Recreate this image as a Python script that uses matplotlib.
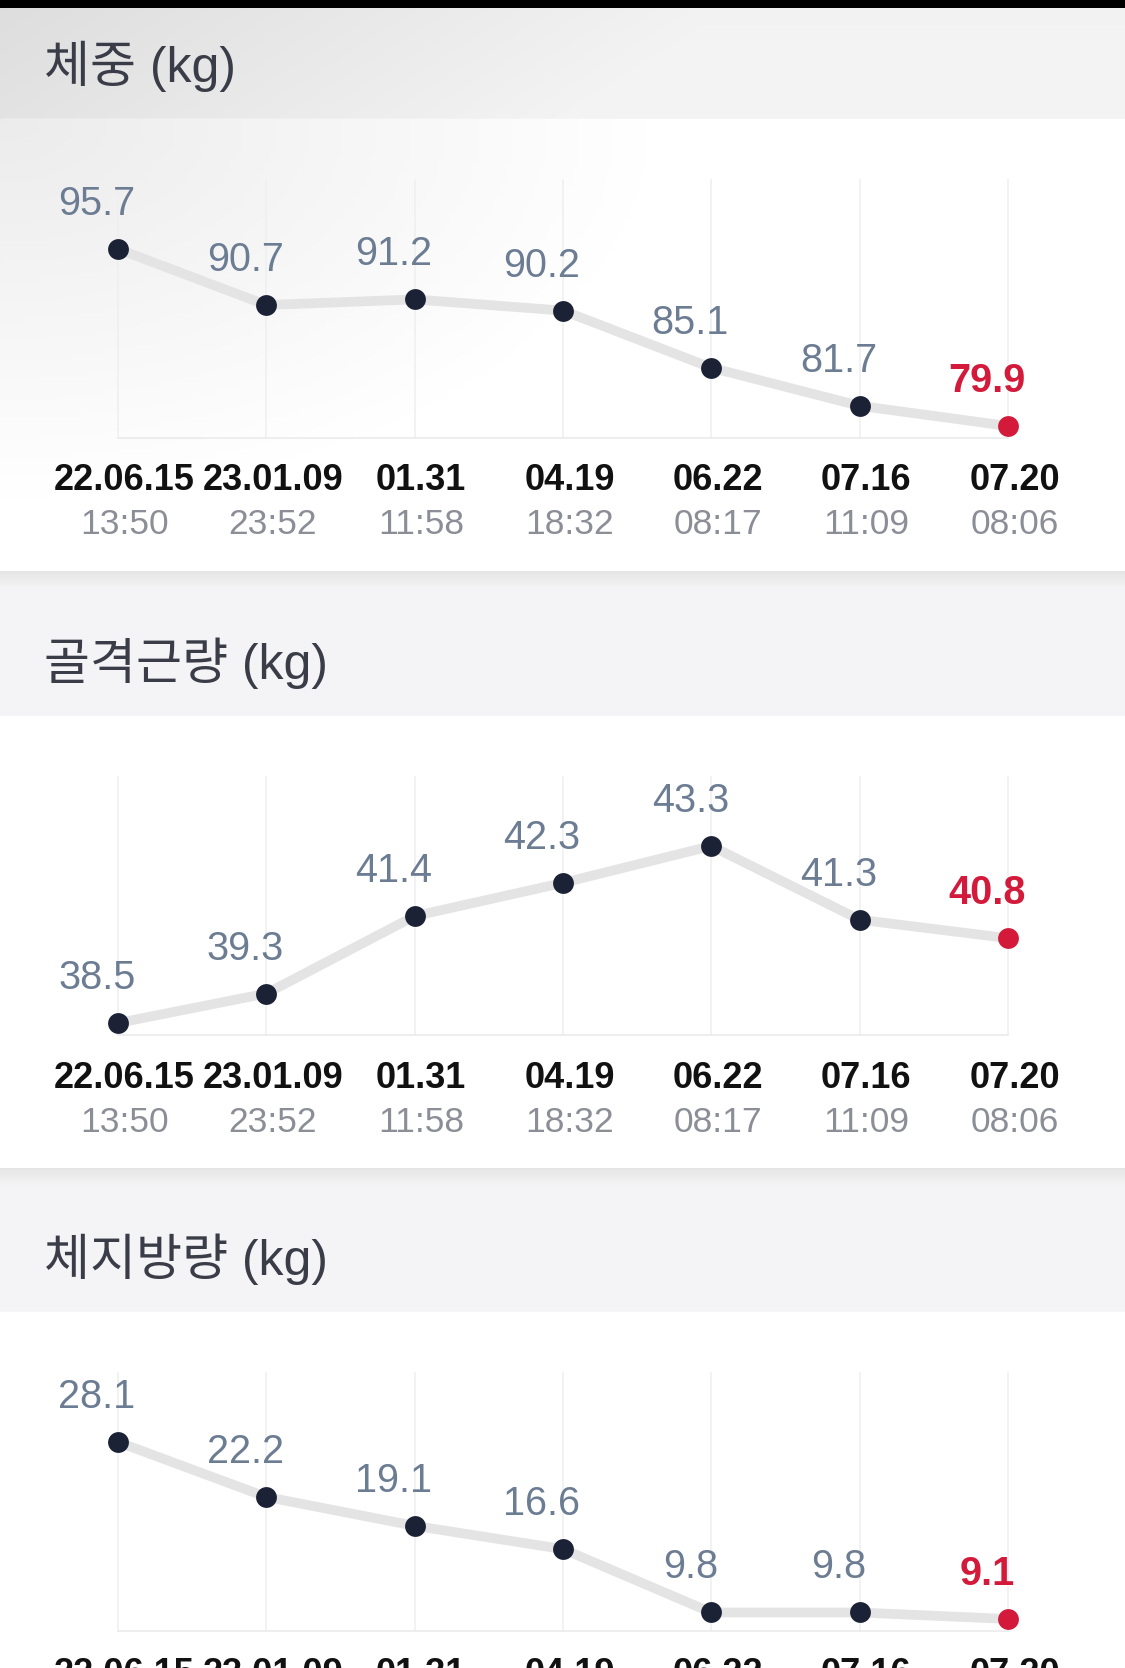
import numpy as np
import matplotlib.pyplot as plt
from matplotlib.patches import Rectangle

W, H = 1125, 1668
dpi = 100

dates = ["22.06.15", "23.01.09", "01.31", "04.19", "06.22", "07.16", "07.20"]
times = ["13:50", "23:52", "11:58", "18:32", "08:17", "11:09", "08:06"]

titles = ["체중 (kg)", "골격근량 (kg)", "체지방량 (kg)"]
weight = [95.7, 90.7, 91.2, 90.2, 85.1, 81.7, 79.9]
muscle = [38.5, 39.3, 41.4, 42.3, 43.3, 41.3, 40.8]
fat = [28.1, 22.2, 19.1, 16.6, 9.8, 9.8, 9.1]
series = [weight, muscle, fat]

# layout in pixels
panel_tops = [119, 716, 1312]
x_first, x_last = 118, 1008

gray_bg = "#f4f4f6"
dot_col = "#1b2236"
red = "#d31a3a"
val_col = "#6c7d93"
time_col = "#8b8e96"
num_font = ["Liberation Sans", "DejaVu Sans"]

fig = plt.figure(figsize=(W / dpi, H / dpi), dpi=dpi, facecolor=gray_bg)

# background decorations in pixel space
bg = fig.add_axes([0, 0, 1, 1], zorder=0)
bg.axis("off")

bg.add_patch(Rectangle((0, 0), W, 8, color="black"))

# header 1: gradient darker to the left
gx = np.linspace(0, 1, 300)
gy = np.linspace(0, 1, 60)[:, None]
shade = 0.87 + 0.08 * np.clip(gx[None, :] * 1.6, 0, 1) + 0.02 * gy
shade = np.clip(shade, 0, 0.955)
bg.imshow(np.dstack([shade, shade, shade]), extent=(0, W, 119, 8), aspect="auto", zorder=1)

# panels
for k, T in enumerate(panel_tops):
    bottom = min(T + 452, H)
    bg.add_patch(Rectangle((0, T), W, bottom - T, color="white", zorder=1))
    if bottom < H:
        sh = np.linspace(0.9, 0.957, 30)[:, None] * np.ones((1, 10))
        bg.imshow(np.dstack([sh, sh, sh + 0.005]), extent=(0, W, bottom + 18, bottom),
                  aspect="auto", zorder=1)

# panel 1 soft shading at top-left
px = np.linspace(0, W, 200)[None, :]
py = np.linspace(0, 452, 100)[:, None]
d = np.sqrt((px / 650) ** 2 + (py / 380) ** 2)
sh1 = 1 - 0.075 * np.clip(1 - d, 0, 1)
bg.imshow(np.dstack([sh1, sh1, sh1]), extent=(0, W, panel_tops[0] + 452, panel_tops[0]),
          aspect="auto", zorder=1)

bg.set_xlim(0, W)
bg.set_ylim(H, 0)

for title, T in zip(titles, panel_tops):
    fig.text(44 / W, 1 - (T - 53) / H, title, fontsize=36, fontweight="medium",
             family=["Liberation Sans", "Noto Sans CJK KR", "DejaVu Sans"],
             color="#3a3d48", va="center", ha="left", zorder=5)

for vals, T in zip(series, panel_tops):
    n = len(vals)
    xs = np.arange(n)
    ax = fig.add_axes([x_first / W, 1 - (T + 319) / H, (x_last - x_first) / W, 258 / H], zorder=2)
    ax.patch.set_alpha(0)
    ax.set_xlim(0, n - 1)
    lo, hi = min(vals), max(vals)
    s = 177 / (hi - lo)
    ax.set_ylim(lo - 12 / s, hi + 69 / s)
    ax.set_xticks([])
    ax.set_yticks([])
    for sp in ["left", "right", "top"]:
        ax.spines[sp].set_visible(False)
    ax.spines["bottom"].set_color("#ebebed")
    ax.spines["bottom"].set_linewidth(1.2)

    for i in xs:
        ax.axvline(i, color="#efeff1", lw=1.1, zorder=0, clip_on=False)

    ax.plot(xs, vals, color="#e4e4e4", lw=7, solid_capstyle="round", zorder=2, clip_on=False)
    ax.scatter(xs[:-1], vals[:-1], s=15 ** 2, color=dot_col, zorder=3, clip_on=False, linewidths=0)
    ax.scatter(xs[-1:], vals[-1:], s=15 ** 2, color=red, zorder=3, clip_on=False, linewidths=0)

    for i, v in enumerate(vals):
        last = i == n - 1
        ax.annotate(f"{v:.1f}", (i, v), xytext=(-21, 45), textcoords="offset pixels",
                    ha="center", va="center", fontsize=28.5, family=num_font,
                    color=red if last else val_col, fontweight="bold" if last else "normal",
                    annotation_clip=False)
        ax.annotate(dates[i], (i, 0), xycoords=("data", "axes fraction"), xytext=(6.5, -43),
                    textcoords="offset pixels", ha="center", va="center", fontsize=26,
                    fontweight="bold", family=num_font, color="#111111", annotation_clip=False)
        ax.annotate(times[i], (i, 0), xycoords=("data", "axes fraction"), xytext=(6.5, -87),
                    textcoords="offset pixels", ha="center", va="center", fontsize=25.5,
                    family=num_font, color=time_col, annotation_clip=False)

fig.savefig("out.png", dpi=dpi, facecolor=fig.get_facecolor())
